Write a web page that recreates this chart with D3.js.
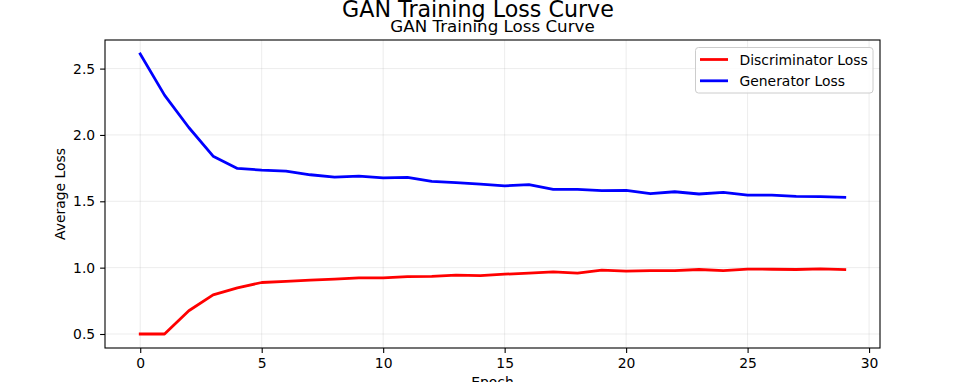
<!DOCTYPE html>
<html>
<head>
<meta charset="utf-8">
<script src="https://cdn.jsdelivr.net/npm/d3@7"></script>
<style>
html,body{margin:0;padding:0;background:#fff;}
svg{display:block;}
text{font-family:"DejaVu Sans",sans-serif;fill:#000;}
</style>
</head>
<body>
<svg id="chart" width="956" height="382"></svg>
<script>
const epochs = d3.range(0, 30);
const discriminatorLoss = [0.50, 0.50, 0.675, 0.795, 0.848, 0.888, 0.896, 0.906, 0.913, 0.923,
  0.923, 0.933, 0.935, 0.943, 0.940, 0.951, 0.958, 0.968, 0.958, 0.981,
  0.974, 0.978, 0.978, 0.986, 0.978, 0.989, 0.988, 0.986, 0.991, 0.986];
const generatorLoss = [2.61, 2.30, 2.056, 1.84, 1.748, 1.735, 1.728, 1.70, 1.683, 1.69,
  1.677, 1.68, 1.65, 1.64, 1.63, 1.617, 1.625, 1.59, 1.59, 1.58,
  1.582, 1.557, 1.572, 1.555, 1.567, 1.547, 1.547, 1.537, 1.535, 1.53];
const xTicks = [0, 5, 10, 15, 20, 25, 30];
const yTicks = [0.5, 1.0, 1.5, 2.0, 2.5];
const seriesNames = ["Discriminator Loss", "Generator Loss"];
const seriesColors = ["#ff0000", "#0000ff"];

const svg = d3.select("#chart");
const L = 105, R = 880, T = 40, B = 348;

const allVals = discriminatorLoss.concat(generatorLoss);
const yMin = d3.min(allVals), yMax = d3.max(allVals);
const yPad = (yMax - yMin) * 0.05;
const xPad = (d3.max(epochs) - d3.min(epochs)) * 0.05;

const x = d3.scaleLinear().domain([d3.min(epochs) - xPad, d3.max(epochs) + xPad]).range([L, R]);
const y = d3.scaleLinear().domain([yMin - yPad, yMax + yPad]).range([B, T]);

// grid
const grid = svg.append("g");
grid.selectAll("line.gx").data(xTicks).enter().append("line")
  .attr("x1", d => x(d)).attr("x2", d => x(d)).attr("y1", T).attr("y2", B)
  .attr("stroke", "#b0b0b0").attr("stroke-opacity", 0.3).attr("stroke-width", 0.8);
grid.selectAll("line.gy").data(yTicks).enter().append("line")
  .attr("y1", d => y(d)).attr("y2", d => y(d)).attr("x1", L).attr("x2", R)
  .attr("stroke", "#b0b0b0").attr("stroke-opacity", 0.3).attr("stroke-width", 0.8);

// lines
const line = d3.line().x((d, i) => x(epochs[i])).y(d => y(d));
[discriminatorLoss, generatorLoss].forEach((s, k) => {
  svg.append("path").datum(s).attr("d", line)
    .attr("fill", "none").attr("stroke", seriesColors[k])
    .attr("stroke-width", 2.78).attr("stroke-linejoin", "round").attr("stroke-linecap", "square");
});

// axes
const xAxis = d3.axisBottom(x).tickValues(xTicks).tickFormat(d3.format("d")).tickSize(4.9).tickPadding(4.9);
const yAxis = d3.axisLeft(y).tickValues(yTicks).tickFormat(d3.format(".1f")).tickSize(4.9).tickPadding(4.9);
const gx = svg.append("g").attr("transform", `translate(0,${B})`).call(xAxis);
const gy = svg.append("g").attr("transform", `translate(${L},0)`).call(yAxis);
[gx, gy].forEach(g => {
  g.select(".domain").remove();
  g.selectAll(".tick line").attr("stroke", "#000").attr("stroke-width", 1.1);
  g.selectAll(".tick text").attr("font-size", "13.9px").attr("font-family", "DejaVu Sans").attr("fill", "#000");
});

// spines
svg.append("rect").attr("x", L).attr("y", T).attr("width", R - L).attr("height", B - T)
  .attr("fill", "none").attr("stroke", "#000").attr("stroke-width", 1.1);

// titles
svg.append("text").attr("x", 478).attr("y", 17).attr("text-anchor", "middle")
  .attr("font-size", "22.2px").text("GAN Training Loss Curve");
svg.append("text").attr("x", (L + R) / 2).attr("y", 32).attr("text-anchor", "middle")
  .attr("font-size", "16.7px").text("GAN Training Loss Curve");

// axis labels
svg.append("text").attr("x", (L + R) / 2).attr("y", 387).attr("text-anchor", "middle")
  .attr("font-size", "13.9px").text("Epoch");
svg.append("text").attr("transform", `translate(65,${(T + B) / 2}) rotate(-90)`).attr("text-anchor", "middle")
  .attr("font-size", "13.9px").text("Average Loss");

// legend
const lg = svg.append("g");
lg.append("rect").attr("x", 695.5).attr("y", 47.5).attr("width", 177.5).attr("height", 45.5)
  .attr("rx", 3).attr("fill", "#fff").attr("fill-opacity", 0.8)
  .attr("stroke", "#cccccc").attr("stroke-width", 1);
seriesNames.forEach((n, k) => {
  const yy = 59.5 + k * 21.3;
  lg.append("line").attr("x1", 700).attr("x2", 728).attr("y1", yy).attr("y2", yy)
    .attr("stroke", seriesColors[k]).attr("stroke-width", 2.78);
  lg.append("text").attr("x", 739.5).attr("y", yy + 5).attr("font-size", "13.9px").text(n);
});
</script>
</body>
</html>
